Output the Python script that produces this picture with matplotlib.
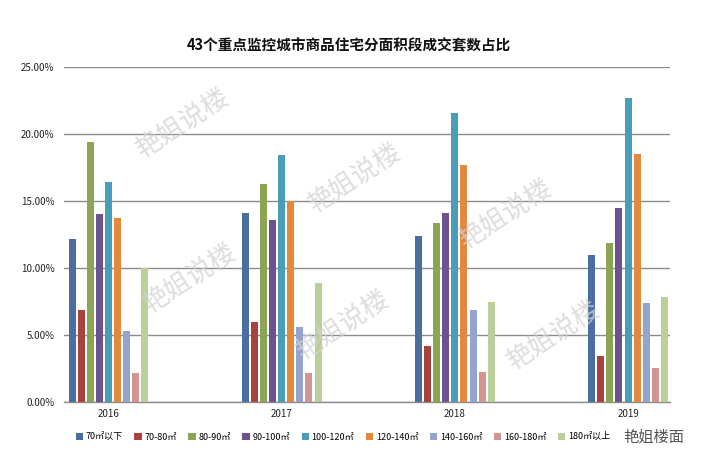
import matplotlib
matplotlib.use("Agg")
import matplotlib.pyplot as plt
import numpy as np
from matplotlib.ticker import FuncFormatter

plt.rcParams['font.family'] = ['Noto Sans CJK SC', 'DejaVu Sans']

years = ["2016", "2017", "2018", "2019"]
series_names = ["70㎡以下", "70-80㎡", "80-90㎡", "90-100㎡", "100-120㎡",
                "120-140㎡", "140-160㎡", "160-180㎡", "180㎡以上"]
s_70_below = [12.2, 14.1, 12.4, 11.0]
s_70_80 = [6.9, 6.0, 4.2, 3.4]
s_80_90 = [19.4, 16.3, 13.35, 11.9]
s_90_100 = [14.0, 13.6, 14.1, 14.5]
s_100_120 = [16.4, 18.4, 21.6, 22.7]
s_120_140 = [13.7, 15.0, 17.7, 18.5]
s_140_160 = [5.3, 5.6, 6.9, 7.4]
s_160_180 = [2.2, 2.2, 2.25, 2.55]
s_180_above = [10.0, 8.9, 7.5, 7.8]
all_series = [s_70_below, s_70_80, s_80_90, s_90_100, s_100_120,
              s_120_140, s_140_160, s_160_180, s_180_above]
colors = ["#4A6EA0", "#A9413F", "#8BA552", "#6C5390", "#4A9DB9",
          "#E3893D", "#93A5CF", "#D39593", "#BBCF98"]

fig = plt.figure(figsize=(7.04, 4.67), dpi=100)
ax = fig.add_axes([64/704, 1-402/467, (670-64)/704, (402-67)/467])

x = np.arange(len(years))
pitch = 0.0525
width = 0.0404
for i, (vals, c, name) in enumerate(zip(all_series, colors, series_names)):
    ax.bar(x + (i - 4) * pitch, vals, width=width, color=c, label=name, zorder=3)

ax.set_ylim(0, 25)
ax.set_xlim(-0.257, 3.242)
ax.set_yticks(np.arange(0, 25.1, 5))
ax.yaxis.set_major_formatter(FuncFormatter(lambda v, p: f"{v:.2f}%"))
ax.grid(axis='y', color='#8c8c8c', linewidth=1, zorder=0)
ax.set_axisbelow(True)
for s in ['top', 'right', 'left']:
    ax.spines[s].set_visible(False)
ax.spines['bottom'].set_color('#8c8c8c')
ax.spines['bottom'].set_linewidth(1)
ax.set_xticks(x)
ax.set_xticklabels(years)
ax.tick_params(axis='both', length=0, labelsize=7, colors='#222222')
ax.tick_params(axis='y', pad=7)
ax.tick_params(axis='x', pad=5)

fig.text(349/704, 1-45/467, "43个重点监控城市商品住宅分面积段成交套数占比",
         ha='center', va='center', fontsize=10.5, fontweight='bold', color='#111111')

# watermarks
for (wx, wy) in [(182, 123), (189, 278), (354, 178), (342, 325), (505, 214), (553, 335)]:
    fig.text(wx/704, 1-wy/467, "艳姐说楼", ha='center', va='center', rotation=33,
             fontsize=19, color='#d2d2d2', alpha=0.75, zorder=5)

leg = fig.legend(loc='center', bbox_to_anchor=(0.487, 1-437/467), ncol=9, frameon=False,
                 fontsize=6.5, handlelength=0.8, handleheight=0.8, handletextpad=0.3,
                 columnspacing=1.3, borderaxespad=0)

fig.text(684/704, 1-437/467, "艳姐楼面", ha='right', va='center', fontsize=11,
         color='#555555', zorder=10,
         bbox=dict(facecolor='white', edgecolor='none', pad=2))

fig.savefig("out.png", dpi=100)
